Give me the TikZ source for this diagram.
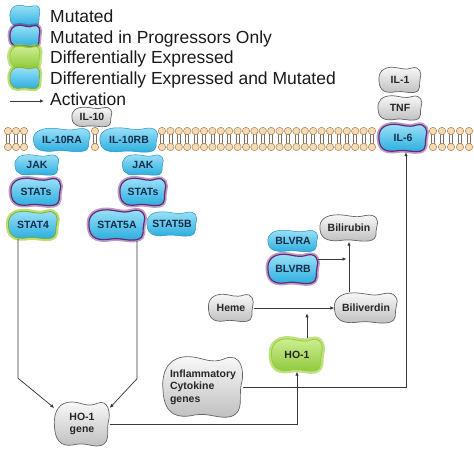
\documentclass[tikz,border=0pt]{standalone}
\usepackage{fontspec}
\setmainfont{Liberation Sans}
\usetikzlibrary{arrows.meta}
\definecolor{bluetop}{RGB}{160,228,248}
\definecolor{bluebot}{RGB}{40,172,222}
\definecolor{blueedge}{RGB}{45,145,195}
\definecolor{purp}{RGB}{105,40,120}
\definecolor{glowg}{RGB}{150,205,50}
\definecolor{greentop}{RGB}{210,240,150}
\definecolor{greenbot}{RGB}{140,200,60}
\definecolor{greytop}{RGB}{252,252,252}
\definecolor{greybot}{RGB}{190,190,190}
\definecolor{greyedge}{RGB}{100,100,100}
\definecolor{navy}{RGB}{20,45,75}
\definecolor{linec}{RGB}{55,55,65}
\definecolor{headfill}{RGB}{246,218,178}
\definecolor{headedge}{RGB}{170,130,90}
\definecolor{tailc}{RGB}{120,110,100}
\def\blobpath{(-1,0.1) .. controls (-1.05,-0.6) and (-0.8,-1) .. (-0.35,-0.98) .. controls (0,-0.96) and (0.2,-0.72) .. (0.55,-0.92) .. controls (0.95,-1.12) and (1.05,-0.5) .. (0.96,-0.1) .. controls (0.88,0.3) and (1.05,0.8) .. (0.7,0.95) .. controls (0.4,1.05) and (0.15,0.82) .. (-0.2,0.9) .. controls (-0.6,1.02) and (-0.97,0.95) .. (-1,0.1) -- cycle}
\newcommand{\bnode}[6]{%
  \path[#1, shift={(#3)}, xscale=#4/2, yscale=#5/2] \blobpath;
  \node[#1txt, minimum width=#4pt, minimum height=#5pt] (#2) at (#3) {#6};}
\newcommand{\bicon}[2]{%
  \path[#1, shift={(#2)}, xscale=15, yscale=11] \blobpath;}
\newcommand{\lipid}[1]{%
  \draw[tailc, line width=0.5pt] (#1-1.5,134) -- (#1-1.5,144) (#1+1.5,134) -- (#1+1.5,144);
  \draw[fill=headfill, draw=headedge, line width=0.5pt] (#1,131) circle (3.7) (#1,147) circle (3.7);}
\tikzset{
  bb/.style={top color=bluetop, bottom color=bluebot, draw=blueedge, line width=0.5pt},
  bbtxt/.style={font=\bfseries\fontsize{10.5}{12.5}\selectfont, text=navy, inner sep=0pt},
  pb/.style={top color=bluetop, bottom color=bluebot, preaction={draw=purp, line width=4.5pt, opacity=0.45}, draw=purp, line width=1.2pt},
  pbtxt/.style={bbtxt},
  sg/.style={top color=bluetop, bottom color=bluebot, preaction={draw=glowg, line width=5pt, opacity=0.65}, draw=glowg!85!black, line width=0.8pt},
  sgtxt/.style={bbtxt},
  gg/.style={top color=greentop, bottom color=greenbot, preaction={draw=glowg, line width=5.5pt, opacity=0.6}, draw=glowg, line width=0.8pt},
  ggtxt/.style={bbtxt, text=black!85},
  gr/.style={top color=greytop, bottom color=greybot, draw=greyedge, line width=0.7pt},
  grtxt/.style={bbtxt, text=black!85},
  act/.style={draw=linec, line width=0.75pt, -{Latex[length=4pt,width=3.5pt]}},
  legtxt/.style={anchor=base west, inner sep=0pt, font=\fontsize{17.5}{19}\selectfont, text=black!90},
}
\begin{document}
\begin{tikzpicture}[x=1pt,y=-1pt]
\useasboundingbox (0,0) rectangle (474,451);
% legend
\bicon{bb}{25,16}
\bicon{pb}{25,36}
\bicon{gg}{25,57}
\bicon{sg}{25,78}
\node[legtxt] (l1) at (50,22) {Mutated};
\node[legtxt] (l2) at (50,43) {Mutated in Progressors Only};
\node[legtxt] (l3) at (50,63) {Differentially Expressed};
\node[legtxt] (l4) at (50,84) {Differentially Expressed and Mutated};
\node[legtxt] (l5) at (50,105) {Activation};
\coordinate (la) at (10,101);
\draw[act, shorten >=6pt] (la) -- (l5.west |- la);
% membrane
\foreach \x in {8,16,24} {\lipid{\x}}
\lipid{95}
\foreach \x in {162,170.4,...,372.1} {\lipid{\x}}
\foreach \x in {433,442,451,460,469} {\lipid{\x}}
% receptors
\bnode{gr}{il10}{92,117}{40}{20}{IL-10}
\bnode{bb}{il10ra}{62,140}{57}{24}{IL-10RA}
\bnode{bb}{il10rb}{129,140}{58}{25}{IL-10RB}
\bnode{bb}{jakl}{37,165}{44}{21}{JAK}
\bnode{bb}{jakr}{143,165}{41}{21}{JAK}
\bnode{pb}{statsl}{36,192}{50}{28}{STATs}
\bnode{pb}{statsr}{143,192}{46}{28}{STATs}
\bnode{sg}{stat4}{33,225}{49}{28}{STAT4}
\bnode{bb}{stat5b}{172,224}{50}{25}{STAT5B}
\bnode{pb}{stat5a}{117,225}{56}{31}{STAT5A}
\bnode{gr}{il1}{400,80}{42}{26}{IL-1}
\bnode{gr}{tnf}{400,108}{44}{25}{TNF}
\bnode{pb}{il6}{403,138}{48}{28}{IL-6}
\bnode{gr}{bilirubin}{349,228}{58}{27}{Bilirubin}
\bnode{bb}{blvra}{293,241}{50}{22}{BLVRA}
\bnode{pb}{blvrb}{293,269}{50}{30}{BLVRB}
\bnode{gr}{heme}{231,308}{45}{28}{Heme}
\bnode{gr}{biliverdin}{366,308}{63}{31}{Biliverdin}
\bnode{gg}{ho1}{297,355}{51}{33}{HO-1}
\bnode{gr}{infl}{203,387}{80}{62}{\begin{tabular}{@{}l@{}}Inflammatory\\Cytokine\\genes\end{tabular}}
\bnode{gr}{hogene}{82,424}{55}{45}{\begin{tabular}{@{}c@{}}HO-1\\gene\end{tabular}}
% connectors
\draw[act] ([xshift=-15pt]stat4.south) -- ++(0,139) -- (hogene.150);
\draw[act] ([xshift=20pt]stat5a.south) -- ++(0,138) -- (hogene.30);
\draw[act] (hogene.east) -| (ho1.south);
\draw[act] ([xshift=10pt]ho1.north) -- ++(0,-25);
\draw[act] (heme.east) -- (biliverdin.west);
\draw[act] (biliverdin.north -| bilirubin.south) -- (bilirubin.south);
\draw[act] ([yshift=10pt]blvrb.east) -- ([yshift=10pt,xshift=-2.5pt]blvrb.east -| bilirubin.south);
\draw[act] (infl.east) -| ([xshift=3pt]il6.south);
\end{tikzpicture}
\end{document}
